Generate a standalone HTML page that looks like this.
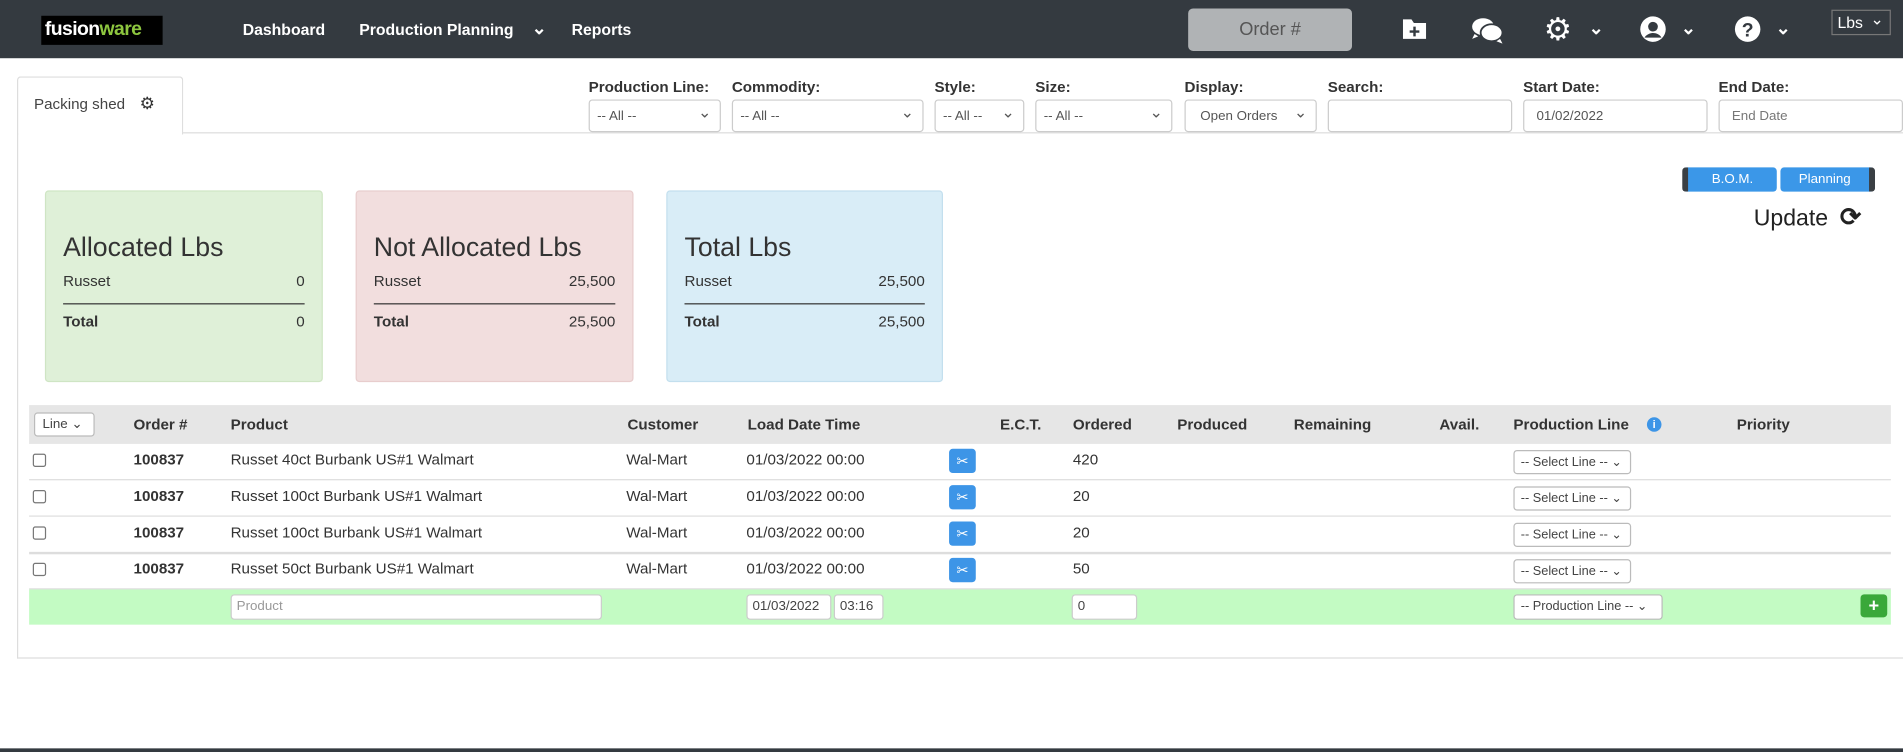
<!DOCTYPE html>
<html><head><meta charset="utf-8"><style>
*{box-sizing:border-box;margin:0;padding:0}
html,body{width:1903px;height:752px;overflow:hidden;background:#fff}
#w{position:absolute;left:0;top:0;width:1568px;height:620px;transform:scale(1.21365,1.2129);transform-origin:0 0;font-family:"Liberation Sans",sans-serif;color:#333;font-size:12.5px}
.a{position:absolute;white-space:nowrap}
.nav{background:#343a40;left:0;top:0;width:1568px;height:48px}
.nl{color:#fff;font-weight:bold;font-size:13px;top:17px}
.lbl{font-weight:bold;font-size:12.5px;top:65px;color:#333}
.sel{border:1px solid #ccc;border-radius:3px;background:#fff;font-size:11px;color:#555;padding:0 6px;display:flex;align-items:center;height:27px;top:82px}
.sel.c::after{content:"⌄";position:absolute;right:7px;top:2px;font-size:13px}
.card{top:157px;height:158px;border:1px solid;border-radius:3px}
.ct{font-size:22px;top:33px;left:14px;color:#333}
.cr{left:14px;right:14px;font-size:12.5px}
.th{top:343px;font-weight:bold;font-size:12.5px}
.td{font-size:12.5px}
.cb{width:11px;height:11px;border:1px solid #777;border-radius:2px;background:#fff}
.sc{width:22px;height:20px;background:#3d95e7;border-radius:3px;color:#fff;font-size:12px;text-align:center;line-height:20px}
.sl{width:97px;height:20px;border:1px solid #bbb;border-radius:3px;background:#fff;font-size:10.5px;padding-left:5px;line-height:18px;color:#444}
.in{background:#fff;border:1px solid #ccc;border-radius:3px;font-size:11px;padding-left:4px;line-height:19px;height:21px;color:#444}
</style></head><body><div id="w">
<div class="a nav"></div>
<div class="a" style="left:34px;top:13px;width:100px;height:24px;background:#000;color:#fff;font-weight:bold;font-size:16px;line-height:24px;padding-left:3px;letter-spacing:-0.5px">fusion<span style="color:#8dc63f">ware</span></div>
<div class="a nl" style="left:200px">Dashboard</div>
<div class="a nl" style="left:296px">Production Planning</div>
<div class="a nl" style="left:438px;top:14px;font-size:15px">⌄</div>
<div class="a nl" style="left:471px">Reports</div>
<div class="a" style="left:979px;top:7px;width:135px;height:35px;background:#b0b3b5;border-radius:4px;color:#555;font-size:15px;text-align:center;line-height:35px">Order #</div>
<svg class="a" style="left:1155px;top:14px" width="22" height="20"><path d="M1 2h7l2 3h10v13H1z" fill="#fff"/><path d="M10.5 8v8M6.5 12h8" stroke="#343a40" stroke-width="2"/></svg>
<svg class="a" style="left:1212px;top:13px" width="28" height="24"><ellipse cx="10" cy="9" rx="9" ry="7" fill="#fff"/><ellipse cx="17" cy="14" rx="9" ry="7" fill="#fff" stroke="#343a40" stroke-width="1.5"/><path d="M3 15l-2 4 5-2zM24 19l2 4-5-2z" fill="#fff"/></svg>
<div class="a" style="left:1272px;top:9px;color:#fff;font-size:26px">⚙</div>
<div class="a nl" style="left:1309px;top:14px;font-size:15px">⌄</div>
<svg class="a" style="left:1351px;top:13px" width="22" height="22"><circle cx="11" cy="11" r="10.5" fill="#fff"/><circle cx="11" cy="9" r="4" fill="#343a40"/><path d="M4 18c3-5 11-5 14 0" fill="#343a40"/></svg>
<div class="a nl" style="left:1385px;top:14px;font-size:15px">⌄</div>
<svg class="a" style="left:1429px;top:13px" width="22" height="22"><circle cx="11" cy="11" r="10.5" fill="#fff"/><text x="11" y="17" text-anchor="middle" font-family="Liberation Sans" font-weight="bold" font-size="16" fill="#343a40">?</text></svg>
<div class="a nl" style="left:1463px;top:14px;font-size:15px">⌄</div>
<div class="a" style="left:1509px;top:8px;width:49px;height:21px;border:1px solid #777;color:#fff;font-size:13px;padding-left:4px;line-height:19px">Lbs <span style="position:absolute;right:5px;top:-3px">⌄</span></div>
<div class="a" style="left:0;top:617px;width:1568px;height:3px;background:#343a40"></div>

<div class="a" style="left:14px;top:63px;width:137px;height:48px;border:1px solid #ddd;border-bottom:none;border-radius:3px 3px 0 0;background:#fff"></div>
<div class="a" style="left:150px;top:109px;width:1418px;height:1px;background:#ddd"></div>
<div class="a" style="left:14px;top:110px;width:1px;height:433px;background:#ddd"></div>
<div class="a" style="left:14px;top:542px;width:1554px;height:1px;background:#ddd"></div>
<div class="a" style="left:28px;top:79px;font-size:12.5px;color:#444">Packing shed</div>
<div class="a" style="left:115px;top:77px;font-size:14px;color:#333">⚙</div>

<div class="a lbl" style="left:485px">Production Line:</div>
<div class="a lbl" style="left:603px">Commodity:</div>
<div class="a lbl" style="left:770px">Style:</div>
<div class="a lbl" style="left:853px">Size:</div>
<div class="a lbl" style="left:976px">Display:</div>
<div class="a lbl" style="left:1094px">Search:</div>
<div class="a lbl" style="left:1255px">Start Date:</div>
<div class="a lbl" style="left:1416px">End Date:</div>
<div class="a sel c" style="left:485px;width:109px">-- All --</div>
<div class="a sel c" style="left:603px;width:158px">-- All --</div>
<div class="a sel c" style="left:770px;width:74px">-- All --</div>
<div class="a sel c" style="left:853px;width:113px">-- All --</div>
<div class="a sel c" style="left:976px;width:109px;padding-left:12px">Open Orders</div>
<div class="a sel" style="left:1094px;width:152px"></div>
<div class="a sel" style="left:1255px;width:152px;padding-left:10px">01/02/2022</div>
<div class="a sel" style="left:1416px;width:152px;padding-left:10px;color:#777">End Date</div>

<div class="a card" style="left:37px;width:229px;background:#dff0d8;border-color:#cfe5c4">
<div class="a ct">Allocated Lbs</div>
<div class="a cr" style="top:67px">Russet<span style="float:right">0</span></div>
<div class="a" style="left:14px;right:14px;top:92px;height:1px;background:#333"></div>
<div class="a cr" style="top:100px;font-weight:bold">Total<span style="float:right;font-weight:normal">0</span></div></div>
<div class="a card" style="left:293px;width:229px;background:#f2dede;border-color:#e8cdcd">
<div class="a ct">Not Allocated Lbs</div>
<div class="a cr" style="top:67px">Russet<span style="float:right">25,500</span></div>
<div class="a" style="left:14px;right:14px;top:92px;height:1px;background:#333"></div>
<div class="a cr" style="top:100px;font-weight:bold">Total<span style="float:right;font-weight:normal">25,500</span></div></div>
<div class="a card" style="left:549px;width:228px;background:#d9edf7;border-color:#c3dfee">
<div class="a ct">Total Lbs</div>
<div class="a cr" style="top:67px">Russet<span style="float:right">25,500</span></div>
<div class="a" style="left:14px;right:14px;top:92px;height:1px;background:#333"></div>
<div class="a cr" style="top:100px;font-weight:bold">Total<span style="float:right;font-weight:normal">25,500</span></div></div>

<div class="a" style="left:1386px;top:138px;width:78px;height:20px;background:#3b97e8;border-left:5px solid #3a3f44;border-radius:3px;color:#fff;font-size:11px;text-align:center;line-height:20px">B.O.M.</div>
<div class="a" style="left:1467px;top:138px;width:78px;height:20px;background:#3b97e8;border-right:5px solid #3a3f44;border-radius:3px;color:#fff;font-size:11px;text-align:center;line-height:20px">Planning</div>
<div class="a" style="left:1445px;top:170px;font-size:19px;color:#222">Update</div>
<div class="a" style="left:1516px;top:167px;font-size:21px;color:#222;font-weight:bold">⟳</div>

<div class="a" style="left:24px;top:334px;width:1534px;height:32px;background:#e6e6e6"></div>
<div class="a" style="left:28px;top:340px;width:50px;height:20px;background:#fff;border:1px solid #bbb;border-radius:3px;font-size:11px;padding-left:6px;line-height:18px;color:#444">Line ⌄</div>
<div class="a th" style="left:110px">Order #</div>
<div class="a th" style="left:190px">Product</div>
<div class="a th" style="left:517px">Customer</div>
<div class="a th" style="left:616px">Load Date Time</div>
<div class="a th" style="left:824px">E.C.T.</div>
<div class="a th" style="left:884px">Ordered</div>
<div class="a th" style="left:970px">Produced</div>
<div class="a th" style="left:1066px">Remaining</div>
<div class="a th" style="left:1186px">Avail.</div>
<div class="a th" style="left:1247px">Production Line</div>
<div class="a" style="left:1357px;top:344px;width:12px;height:12px;border-radius:50%;background:#3d95e7;color:#fff;font-size:9px;text-align:center;line-height:12px;font-weight:bold">i</div>
<div class="a th" style="left:1431px">Priority</div>

<div class="a" style="left:24px;top:395px;width:1534px;height:1px;background:#ddd"></div>
<div class="a" style="left:24px;top:425px;width:1534px;height:1px;background:#ddd"></div>
<div class="a" style="left:24px;top:455px;width:1534px;height:2px;background:#ddd"></div>
<div class="a" style="left:24px;top:485px;width:1534px;height:1px;background:#ddd"></div>

<div class="a cb" style="left:27px;top:374px"></div>
<div class="a td" style="left:110px;top:372px;font-weight:bold">100837</div>
<div class="a td" style="left:190px;top:372px">Russet 40ct Burbank US#1 Walmart</div>
<div class="a td" style="left:516px;top:372px">Wal-Mart</div>
<div class="a td" style="left:615px;top:372px">01/03/2022 00:00</div>
<div class="a sc" style="left:782px;top:370px">✂</div>
<div class="a td" style="left:884px;top:372px">420</div>
<div class="a sl" style="left:1247px;top:371px">-- Select Line -- ⌄</div>

<div class="a cb" style="left:27px;top:404px"></div>
<div class="a td" style="left:110px;top:402px;font-weight:bold">100837</div>
<div class="a td" style="left:190px;top:402px">Russet 100ct Burbank US#1 Walmart</div>
<div class="a td" style="left:516px;top:402px">Wal-Mart</div>
<div class="a td" style="left:615px;top:402px">01/03/2022 00:00</div>
<div class="a sc" style="left:782px;top:400px">✂</div>
<div class="a td" style="left:884px;top:402px">20</div>
<div class="a sl" style="left:1247px;top:401px">-- Select Line -- ⌄</div>

<div class="a cb" style="left:27px;top:434px"></div>
<div class="a td" style="left:110px;top:432px;font-weight:bold">100837</div>
<div class="a td" style="left:190px;top:432px">Russet 100ct Burbank US#1 Walmart</div>
<div class="a td" style="left:516px;top:432px">Wal-Mart</div>
<div class="a td" style="left:615px;top:432px">01/03/2022 00:00</div>
<div class="a sc" style="left:782px;top:430px">✂</div>
<div class="a td" style="left:884px;top:432px">20</div>
<div class="a sl" style="left:1247px;top:431px">-- Select Line -- ⌄</div>

<div class="a cb" style="left:27px;top:464px"></div>
<div class="a td" style="left:110px;top:462px;font-weight:bold">100837</div>
<div class="a td" style="left:190px;top:462px">Russet 50ct Burbank US#1 Walmart</div>
<div class="a td" style="left:516px;top:462px">Wal-Mart</div>
<div class="a td" style="left:615px;top:462px">01/03/2022 00:00</div>
<div class="a sc" style="left:782px;top:460px">✂</div>
<div class="a td" style="left:884px;top:462px">50</div>
<div class="a sl" style="left:1247px;top:461px">-- Select Line -- ⌄</div>

<div class="a" style="left:24px;top:486px;width:1534px;height:29px;background:#c3fbc3"></div>
<div class="a in" style="left:190px;top:490px;width:306px;color:#999">Product</div>
<div class="a in" style="left:615px;top:490px;width:70px">01/03/2022</div>
<div class="a in" style="left:687px;top:490px;width:41px">03:16</div>
<div class="a in" style="left:883px;top:490px;width:54px">0</div>
<div class="a sl" style="left:1247px;top:490px;width:123px;height:21px">-- Production Line -- ⌄</div>
<div class="a" style="left:1533px;top:490px;width:22px;height:19px;background:#3aa83a;border-radius:3px;color:#fff;font-weight:bold;font-size:15px;text-align:center;line-height:19px">+</div>
</div></body></html>
